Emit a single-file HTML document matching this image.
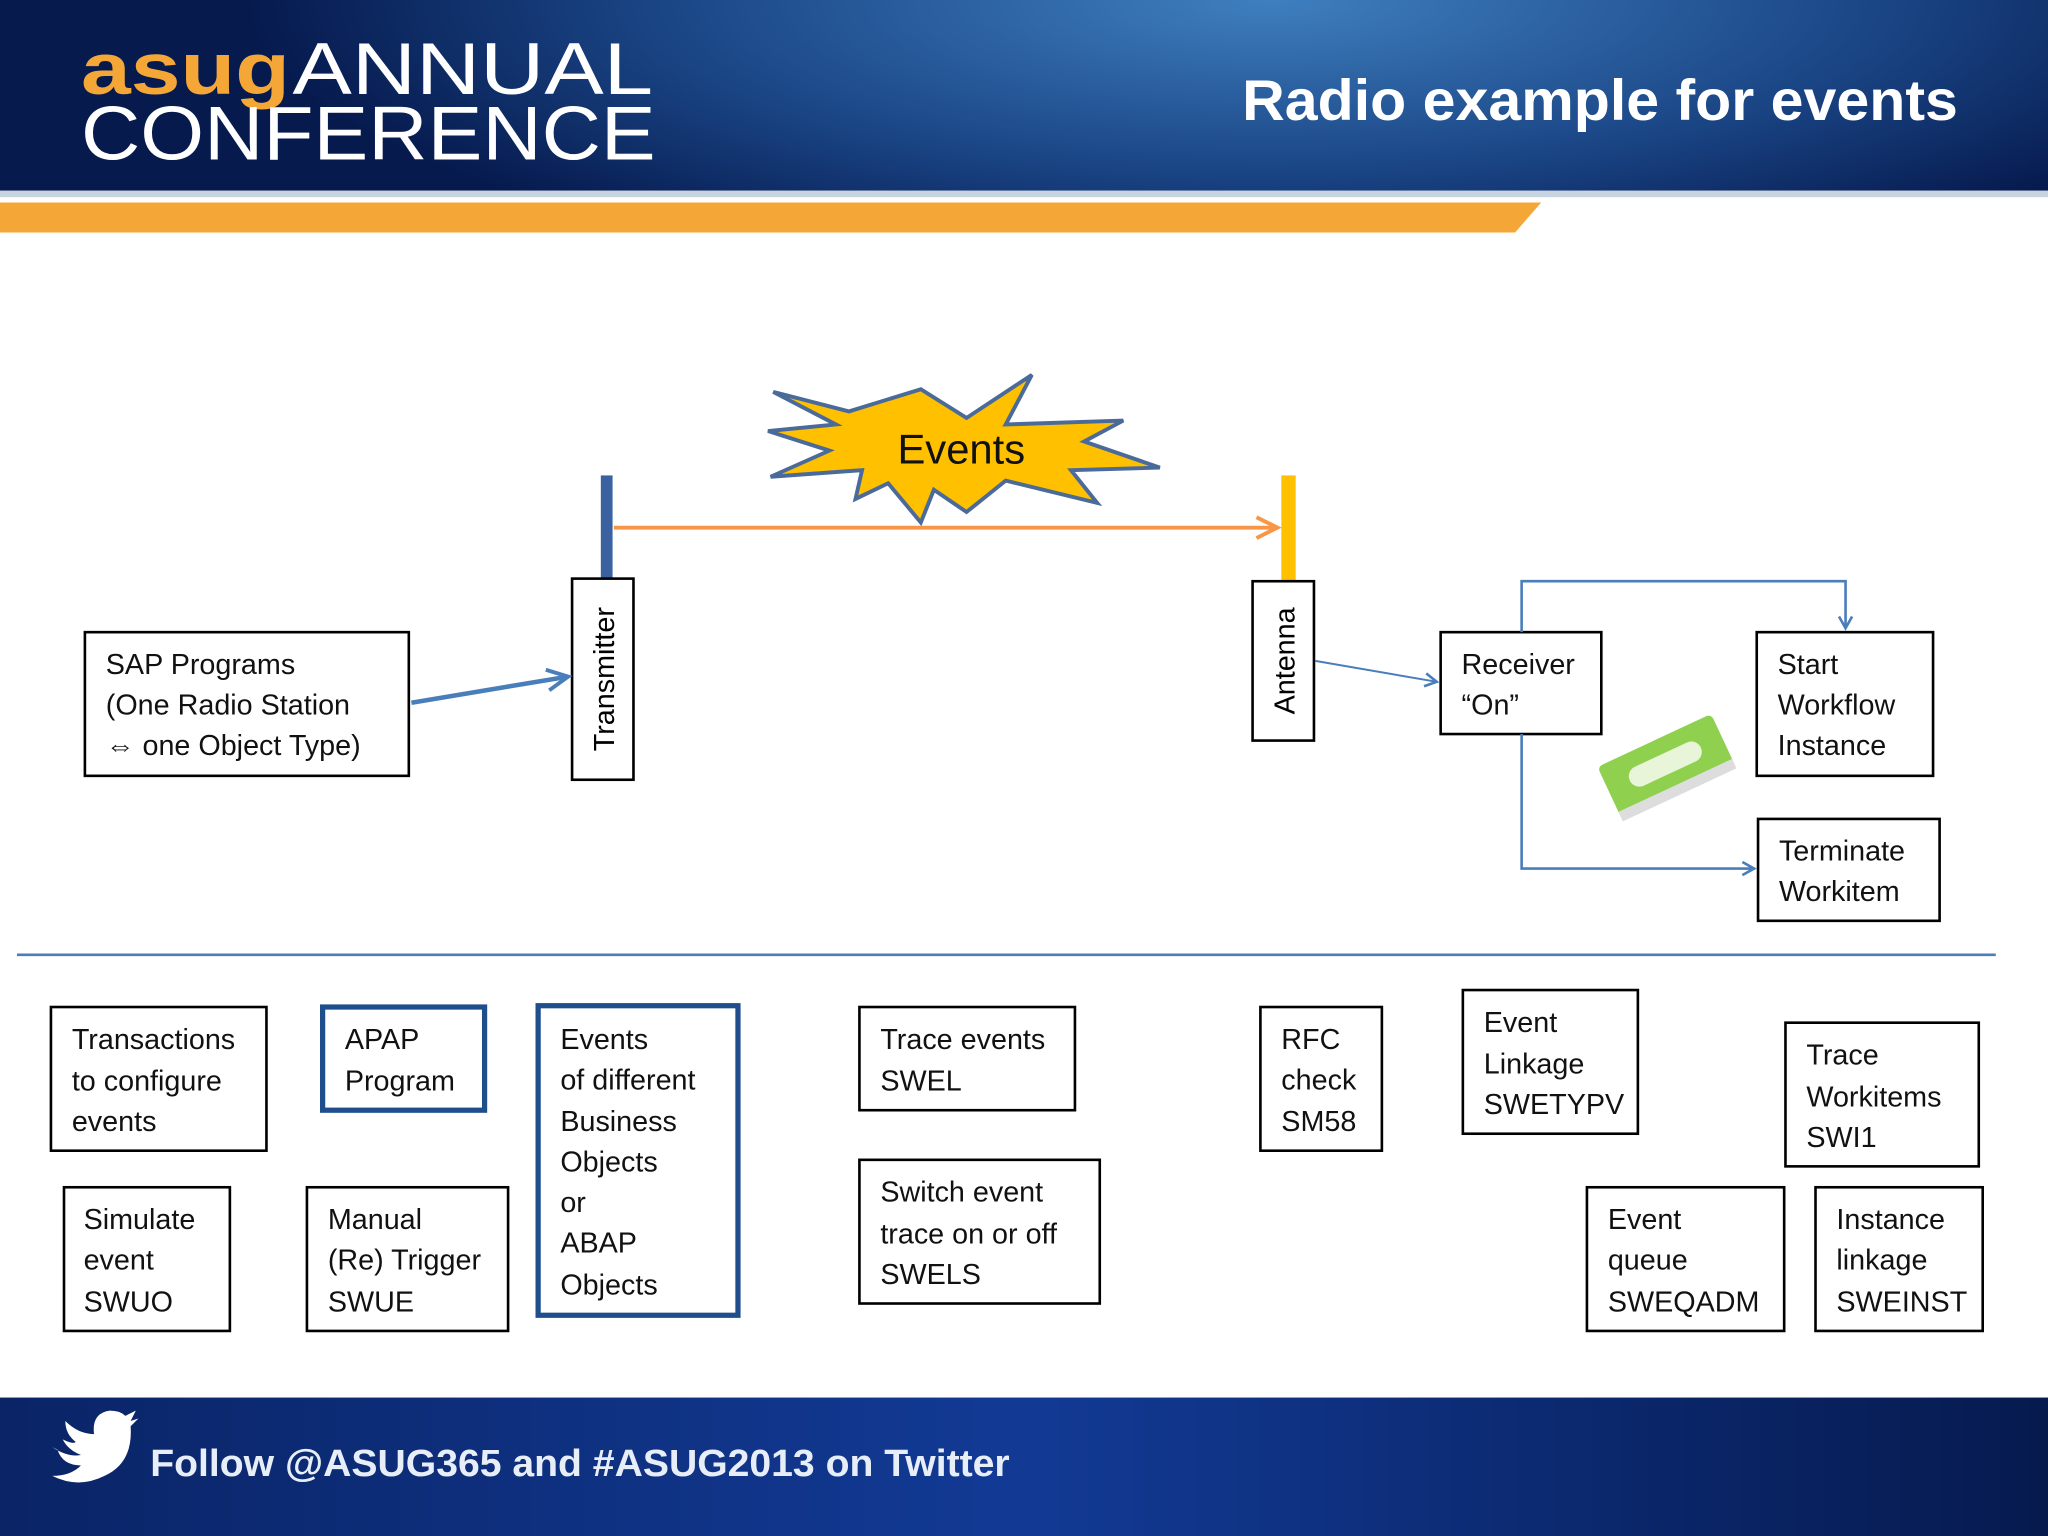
<!DOCTYPE html>
<html><head><meta charset="utf-8"><style>
html,body{margin:0;padding:0;background:#fff}
svg{display:block}
text{font-family:"Liberation Sans",sans-serif}
</style></head><body>
<svg width="2048" height="1536" viewBox="0 0 1568 1176" xmlns="http://www.w3.org/2000/svg">
<defs>
<radialGradient id="hg" cx="0.62" cy="0" r="0.5" gradientTransform="scale(1,3)">
<stop offset="0" stop-color="#3f7fbf"/><stop offset="0.6" stop-color="#1a4585"/><stop offset="1" stop-color="#061a4e"/>
</radialGradient>
<linearGradient id="fg" x1="0" x2="1"><stop offset="0" stop-color="#0a2466"/><stop offset="0.5" stop-color="#123a95"/><stop offset="1" stop-color="#061a4e"/></linearGradient>
<marker id="ab" markerWidth="12" markerHeight="12" refX="10" refY="6" orient="auto" markerUnits="userSpaceOnUse"><path d="M1,1 L10,6 L1,11" fill="none" stroke="#4a7ebb" stroke-width="2"/></marker>
<marker id="ab2" markerWidth="22" markerHeight="22" refX="18" refY="11" orient="auto" markerUnits="userSpaceOnUse"><path d="M2,3 L18,11 L2,19" fill="none" stroke="#4a7ebb" stroke-width="3"/></marker>
<marker id="ao" markerWidth="22" markerHeight="22" refX="18" refY="11" orient="auto" markerUnits="userSpaceOnUse"><path d="M2,3 L18,11 L2,19" fill="none" stroke="#f79646" stroke-width="3"/></marker>
</defs>
<rect x="0" y="0" width="1568" height="146" fill="url(#hg)"/>
<rect x="0" y="146" width="1568" height="5" fill="#c8d4e0"/>
<polygon points="0,155 1180,155 1160,178 0,178" fill="#f4a636"/>
<text x="62" y="72" font-size="56" fill="#f4a636" font-weight="bold" textLength="160" lengthAdjust="spacingAndGlyphs">asug</text>
<text x="224" y="72" font-size="56" fill="#fff" textLength="276" lengthAdjust="spacingAndGlyphs">ANNUAL</text>
<text x="62" y="122" font-size="58" fill="#fff" textLength="440" lengthAdjust="spacingAndGlyphs">CONFERENCE</text>
<text x="1499" y="92" font-size="44" fill="#fff" font-weight="bold" text-anchor="end" textLength="548" lengthAdjust="spacingAndGlyphs">Radio example for events</text>

<rect x="0" y="1070" width="1568" height="106" fill="url(#fg)"/>
<path d="M40,1108 q12,8 22,6 q-10,-4 -14,-12 q8,4 10,2 q-8,-6 -8,-16 q10,10 22,10 q-2,-16 12,-18 q8,0 12,4 l8,-4 l-4,8 l6,-2 l-6,6 q2,28 -20,38 q-20,10 -40,0 q14,0 22,-8 q-14,0 -18,-12 z" fill="#fff"/>
<text x="115" y="1130" font-size="29" font-weight="bold" fill="#e8eef8" textLength="658" lengthAdjust="spacingAndGlyphs">Follow @ASUG365 and #ASUG2013 on Twitter</text>

<polygon points="592,300 650,315 705,298 740,320 790,287 770,325 860,322 830,338 888,358 820,360 840,385 770,368 740,392 715,375 705,400 680,370 655,382 660,360 590,365 635,345 588,330 640,325" fill="#ffc000" stroke="#4a6a9a" stroke-width="3" stroke-linejoin="miter"/>
<text x="736" y="355" font-size="32" text-anchor="middle" fill="#111">Events</text>

<rect x="460" y="364" width="9" height="82" fill="#3b62a0"/>
<rect x="981" y="364" width="11" height="82" fill="#ffc000"/>
<line x1="470" y1="404" x2="978" y2="404" stroke="#f79646" stroke-width="3" marker-end="url(#ao)"/>

<g fill="#fff" stroke="#000" stroke-width="2">
<rect x="438" y="443" width="47" height="154"/>
<rect x="959" y="445" width="47" height="122"/>
<rect x="65" y="484" width="248" height="110"/>
<rect x="1103" y="484" width="123" height="78"/>
<rect x="1345" y="484" width="135" height="110"/>
<rect x="1346" y="627" width="139" height="78"/>
<rect x="39" y="771" width="165" height="110"/>
<rect x="49" y="909" width="127" height="110"/>
<rect x="235" y="909" width="154" height="110"/>
<rect x="658" y="771" width="165" height="79"/>
<rect x="658" y="888" width="184" height="110"/>
<rect x="965" y="771" width="93" height="110"/>
<rect x="1120" y="758" width="134" height="110"/>
<rect x="1367" y="783" width="148" height="110"/>
<rect x="1215" y="909" width="151" height="110"/>
<rect x="1390" y="909" width="128" height="110"/>
</g>
<g fill="#fff" stroke="#1f4e8c" stroke-width="4">
<rect x="247" y="771" width="124" height="79"/>
<rect x="412" y="770" width="153" height="237"/>
</g>
<text transform="translate(470,520) rotate(-90)" font-size="22" text-anchor="middle">Transmitter</text>
<text transform="translate(991,506) rotate(-90)" font-size="22" text-anchor="middle">Antenna</text>

<line x1="315" y1="538" x2="435" y2="518" stroke="#4a7ebb" stroke-width="3.5" marker-end="url(#ab2)"/>
<line x1="1007" y1="506" x2="1100" y2="522" stroke="#4a7ebb" stroke-width="1.5" marker-end="url(#ab)"/>
<polyline points="1165,484 1165,445 1413,445 1413,481" fill="none" stroke="#4a7ebb" stroke-width="2" marker-end="url(#ab)"/>
<polyline points="1165,562 1165,665 1343,665" fill="none" stroke="#4a7ebb" stroke-width="2" marker-end="url(#ab)"/>
<line x1="13" y1="731" x2="1528" y2="731" stroke="#4a7ebb" stroke-width="2"/>

<g transform="translate(1275,585) rotate(-25)">
<rect x="-48" y="-20" width="96" height="42" rx="4" fill="#8fd14f"/>
<rect x="-30" y="-8" width="60" height="16" rx="8" fill="#e8f5d8"/>
<rect x="-48" y="18" width="96" height="8" fill="#ddd"/>
</g>

<g font-size="22" fill="#111">
<text x="81" y="516">SAP Programs</text><text x="81" y="547">(One Radio Station</text><text x="81" y="578">⇔ one Object Type)</text>
<text x="1119" y="516">Receiver</text><text x="1119" y="547">“On”</text>
<text x="1361" y="516">Start</text><text x="1361" y="547">Workflow</text><text x="1361" y="578">Instance</text>
<text x="1362" y="659">Terminate</text><text x="1362" y="690">Workitem</text>
<text x="55" y="803">Transactions</text><text x="55" y="835">to configure</text><text x="55" y="866">events</text>
<text x="264" y="803">APAP</text><text x="264" y="835">Program</text>
<text x="429" y="803">Events</text><text x="429" y="834">of different</text><text x="429" y="866">Business</text><text x="429" y="897">Objects</text><text x="429" y="928">or</text><text x="429" y="959">ABAP</text><text x="429" y="991">Objects</text>
<text x="674" y="803">Trace events</text><text x="674" y="835">SWEL</text>
<text x="674" y="920">Switch event</text><text x="674" y="952">trace on or off</text><text x="674" y="983">SWELS</text>
<text x="981" y="803">RFC</text><text x="981" y="834">check</text><text x="981" y="866">SM58</text>
<text x="1136" y="790">Event</text><text x="1136" y="822">Linkage</text><text x="1136" y="853">SWETYPV</text>
<text x="1383" y="815">Trace</text><text x="1383" y="847">Workitems</text><text x="1383" y="878">SWI1</text>
<text x="64" y="941">Simulate</text><text x="64" y="972">event</text><text x="64" y="1004">SWUO</text>
<text x="251" y="941">Manual</text><text x="251" y="972">(Re) Trigger</text><text x="251" y="1004">SWUE</text>
<text x="1231" y="941">Event</text><text x="1231" y="972">queue</text><text x="1231" y="1004">SWEQADM</text>
<text x="1406" y="941">Instance</text><text x="1406" y="972">linkage</text><text x="1406" y="1004">SWEINST</text>
</g>
</svg>
</body></html>
